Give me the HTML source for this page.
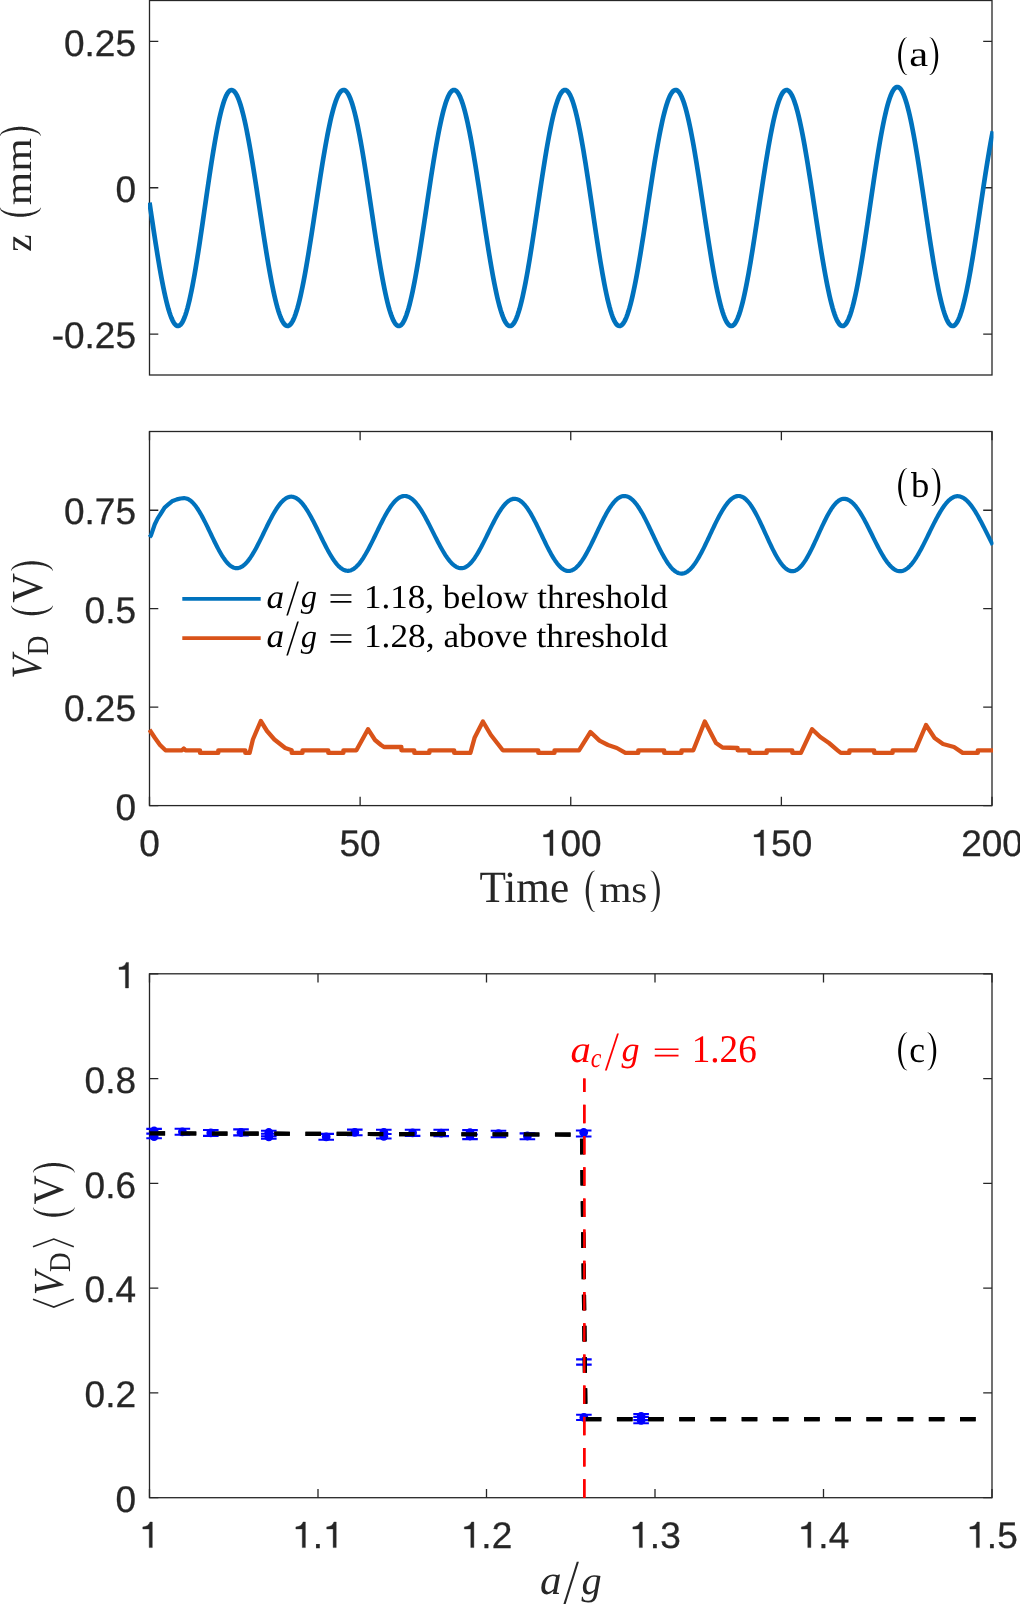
<!DOCTYPE html><html><head><meta charset="utf-8"><style>html,body{margin:0;padding:0;background:#fff;width:1020px;height:1604px;overflow:hidden}svg{display:block}text{text-rendering:geometricPrecision}svg{filter:grayscale(0%)}</style></head><body>
<svg width="1020" height="1604" viewBox="0 0 1020 1604">
<rect width="1020" height="1604" fill="#fff"/>
<defs>
<clipPath id="ca"><rect x="148" y="0.5" width="845.5" height="374.5"/></clipPath>
<clipPath id="cb"><rect x="148" y="431.5" width="845.5" height="374.1"/></clipPath>
<clipPath id="cc"><rect x="148" y="973.8" width="845.5" height="523.9"/></clipPath>
</defs>
<rect x="149.5" y="0.5" width="842.5" height="374.5" fill="none" stroke="#262626" stroke-width="1.3"/>
<rect x="149.5" y="431.5" width="842.5" height="374.1" fill="none" stroke="#262626" stroke-width="1.3"/>
<rect x="149.5" y="973.8" width="842.5" height="523.9" fill="none" stroke="#262626" stroke-width="1.3"/>
<path d="M149.5 41.46h8.8M992 41.46h-8.8M149.5 187.75h8.8M992 187.75h-8.8M149.5 334.04h8.8M992 334.04h-8.8M149.5 805.6h8.8M992 805.6h-8.8M149.5 707.15h8.8M992 707.15h-8.8M149.5 608.71h8.8M992 608.71h-8.8M149.5 510.26h8.8M992 510.26h-8.8M149.5 805.6v-8.8M149.5 431.5v8.8M360.12 805.6v-8.8M360.12 431.5v8.8M570.75 805.6v-8.8M570.75 431.5v8.8M781.38 805.6v-8.8M781.38 431.5v8.8M992 805.6v-8.8M992 431.5v8.8M149.5 1497.7h8.8M992 1497.7h-8.8M149.5 1392.92h8.8M992 1392.92h-8.8M149.5 1288.14h8.8M992 1288.14h-8.8M149.5 1183.36h8.8M992 1183.36h-8.8M149.5 1078.58h8.8M992 1078.58h-8.8M149.5 973.8h8.8M992 973.8h-8.8M149.5 1497.7v-8.8M149.5 973.8v8.8M318 1497.7v-8.8M318 973.8v8.8M486.5 1497.7v-8.8M486.5 973.8v8.8M655 1497.7v-8.8M655 973.8v8.8M823.5 1497.7v-8.8M823.5 973.8v8.8M992 1497.7v-8.8M992 973.8v8.8" stroke="#262626" stroke-width="1.3" fill="none"/>
<path d="M149.5 202.65 L150.5 209.34 L151.5 216.02 L152.5 222.68 L153.5 229.3 L154.5 235.84 L155.5 242.29 L156.5 248.64 L157.5 254.85 L158.5 260.91 L159.5 266.81 L160.5 272.51 L161.5 278.01 L162.5 283.28 L163.5 288.31 L164.5 293.08 L165.5 297.58 L166.5 301.79 L167.5 305.69 L168.5 309.29 L169.5 312.56 L170.5 315.49 L171.5 318.07 L172.5 320.31 L173.5 322.18 L174.5 323.68 L175.5 324.82 L176.5 325.57 L177.5 325.95 L178.5 325.95 L179.5 325.54 L180.5 324.73 L181.5 323.52 L182.5 321.9 L183.5 319.9 L184.5 317.51 L185.5 314.74 L186.5 311.6 L187.5 308.11 L188.5 304.27 L189.5 300.1 L190.5 295.61 L191.5 290.82 L192.5 285.75 L193.5 280.41 L194.5 274.81 L195.5 268.99 L196.5 262.96 L197.5 256.73 L198.5 250.34 L199.5 243.8 L200.5 237.14 L201.5 230.38 L202.5 223.55 L203.5 216.65 L204.5 209.73 L205.5 202.8 L206.5 195.9 L207.5 189.03 L208.5 182.23 L209.5 175.51 L210.5 168.91 L211.5 162.44 L212.5 156.13 L213.5 150 L214.5 144.07 L215.5 138.36 L216.5 132.89 L217.5 127.68 L218.5 122.74 L219.5 118.1 L220.5 113.77 L221.5 109.77 L222.5 106.1 L223.5 102.78 L224.5 99.83 L225.5 97.25 L226.5 95.05 L227.5 93.24 L228.5 91.83 L229.5 90.81 L230.5 90.2 L231.5 90 L232.5 90.19 L233.5 90.74 L234.5 91.67 L235.5 92.96 L236.5 94.61 L237.5 96.62 L238.5 98.98 L239.5 101.69 L240.5 104.72 L241.5 108.09 L242.5 111.76 L243.5 115.74 L244.5 120.01 L245.5 124.56 L246.5 129.37 L247.5 134.43 L248.5 139.72 L249.5 145.22 L250.5 150.92 L251.5 156.8 L252.5 162.84 L253.5 169.03 L254.5 175.33 L255.5 181.74 L256.5 188.23 L257.5 194.79 L258.5 201.38 L259.5 208 L260.5 214.62 L261.5 221.21 L262.5 227.77 L263.5 234.26 L264.5 240.67 L265.5 246.97 L266.5 253.16 L267.5 259.2 L268.5 265.08 L269.5 270.78 L270.5 276.28 L271.5 281.57 L272.5 286.63 L273.5 291.44 L274.5 295.99 L275.5 300.26 L276.5 304.24 L277.5 307.91 L278.5 311.28 L279.5 314.31 L280.5 317.02 L281.5 319.38 L282.5 321.39 L283.5 323.04 L284.5 324.33 L285.5 325.26 L286.5 325.81 L287.5 326 L288.5 325.82 L289.5 325.26 L290.5 324.34 L291.5 323.05 L292.5 321.4 L293.5 319.4 L294.5 317.05 L295.5 314.36 L296.5 311.33 L297.5 307.98 L298.5 304.31 L299.5 300.34 L300.5 296.09 L301.5 291.56 L302.5 286.76 L303.5 281.72 L304.5 276.45 L305.5 270.96 L306.5 265.27 L307.5 259.41 L308.5 253.39 L309.5 247.22 L310.5 240.93 L311.5 234.53 L312.5 228.06 L313.5 221.52 L314.5 214.93 L315.5 208.33 L316.5 201.73 L317.5 195.14 L318.5 188.59 L319.5 182.11 L320.5 175.71 L321.5 169.41 L322.5 163.23 L323.5 157.18 L324.5 151.3 L325.5 145.6 L326.5 140.09 L327.5 134.8 L328.5 129.73 L329.5 124.91 L330.5 120.35 L331.5 116.07 L332.5 112.07 L333.5 108.38 L334.5 104.99 L335.5 101.93 L336.5 99.2 L337.5 96.82 L338.5 94.78 L339.5 93.1 L340.5 91.77 L341.5 90.82 L342.5 90.22 L343.5 90 L344.5 90.15 L345.5 90.69 L346.5 91.6 L347.5 92.89 L348.5 94.56 L349.5 96.59 L350.5 98.98 L351.5 101.73 L352.5 104.82 L353.5 108.24 L354.5 111.99 L355.5 116.04 L356.5 120.4 L357.5 125.04 L358.5 129.95 L359.5 135.11 L360.5 140.5 L361.5 146.12 L362.5 151.93 L363.5 157.93 L364.5 164.09 L365.5 170.39 L366.5 176.81 L367.5 183.34 L368.5 189.94 L369.5 196.6 L370.5 203.3 L371.5 210.01 L372.5 216.72 L373.5 223.4 L374.5 230.03 L375.5 236.59 L376.5 243.06 L377.5 249.41 L378.5 255.63 L379.5 261.69 L380.5 267.58 L381.5 273.28 L382.5 278.76 L383.5 284.02 L384.5 289.03 L385.5 293.78 L386.5 298.25 L387.5 302.43 L388.5 306.3 L389.5 309.85 L390.5 313.08 L391.5 315.96 L392.5 318.5 L393.5 320.67 L394.5 322.48 L395.5 323.92 L396.5 324.99 L397.5 325.68 L398.5 325.98 L399.5 325.91 L400.5 325.45 L401.5 324.61 L402.5 323.39 L403.5 321.8 L404.5 319.85 L405.5 317.52 L406.5 314.85 L407.5 311.83 L408.5 308.47 L409.5 304.79 L410.5 300.79 L411.5 296.5 L412.5 291.91 L413.5 287.06 L414.5 281.95 L415.5 276.6 L416.5 271.02 L417.5 265.25 L418.5 259.28 L419.5 253.16 L420.5 246.88 L421.5 240.48 L422.5 233.98 L423.5 227.39 L424.5 220.74 L425.5 214.04 L426.5 207.33 L427.5 200.62 L428.5 193.93 L429.5 187.29 L430.5 180.71 L431.5 174.23 L432.5 167.85 L433.5 161.61 L434.5 155.51 L435.5 149.58 L436.5 143.85 L437.5 138.32 L438.5 133.01 L439.5 127.95 L440.5 123.15 L441.5 118.62 L442.5 114.38 L443.5 110.45 L444.5 106.83 L445.5 103.54 L446.5 100.59 L447.5 97.98 L448.5 95.73 L449.5 93.85 L450.5 92.33 L451.5 91.19 L452.5 90.43 L453.5 90.05 L454.5 90.05 L455.5 90.42 L456.5 91.16 L457.5 92.27 L458.5 93.74 L459.5 95.57 L460.5 97.76 L461.5 100.29 L462.5 103.16 L463.5 106.37 L464.5 109.89 L465.5 113.72 L466.5 117.84 L467.5 122.25 L468.5 126.93 L469.5 131.87 L470.5 137.04 L471.5 142.44 L472.5 148.05 L473.5 153.84 L474.5 159.8 L475.5 165.92 L476.5 172.17 L477.5 178.53 L478.5 184.98 L479.5 191.5 L480.5 198.08 L481.5 204.69 L482.5 211.31 L483.5 217.92 L484.5 224.5 L485.5 231.02 L486.5 237.47 L487.5 243.83 L488.5 250.08 L489.5 256.2 L490.5 262.16 L491.5 267.95 L492.5 273.56 L493.5 278.96 L494.5 284.13 L495.5 289.07 L496.5 293.75 L497.5 298.16 L498.5 302.28 L499.5 306.11 L500.5 309.63 L501.5 312.84 L502.5 315.71 L503.5 318.24 L504.5 320.43 L505.5 322.26 L506.5 323.73 L507.5 324.84 L508.5 325.58 L509.5 325.95 L510.5 325.95 L511.5 325.57 L512.5 324.8 L513.5 323.65 L514.5 322.12 L515.5 320.22 L516.5 317.96 L517.5 315.34 L518.5 312.36 L519.5 309.05 L520.5 305.41 L521.5 301.44 L522.5 297.18 L523.5 292.62 L524.5 287.79 L525.5 282.7 L526.5 277.36 L527.5 271.8 L528.5 266.02 L529.5 260.06 L530.5 253.93 L531.5 247.65 L532.5 241.24 L533.5 234.73 L534.5 228.12 L535.5 221.45 L536.5 214.74 L537.5 208 L538.5 201.26 L539.5 194.55 L540.5 187.88 L541.5 181.27 L542.5 174.76 L543.5 168.35 L544.5 162.07 L545.5 155.94 L546.5 149.98 L547.5 144.2 L548.5 138.64 L549.5 133.3 L550.5 128.21 L551.5 123.38 L552.5 118.82 L553.5 114.56 L554.5 110.59 L555.5 106.95 L556.5 103.64 L557.5 100.66 L558.5 98.04 L559.5 95.78 L560.5 93.88 L561.5 92.35 L562.5 91.2 L563.5 90.43 L564.5 90.05 L565.5 90.05 L566.5 90.44 L567.5 91.22 L568.5 92.39 L569.5 93.95 L570.5 95.88 L571.5 98.19 L572.5 100.86 L573.5 103.88 L574.5 107.26 L575.5 110.96 L576.5 114.99 L577.5 119.33 L578.5 123.96 L579.5 128.87 L580.5 134.05 L581.5 139.47 L582.5 145.12 L583.5 150.97 L584.5 157.02 L585.5 163.24 L586.5 169.6 L587.5 176.09 L588.5 182.69 L589.5 189.37 L590.5 196.12 L591.5 202.9 L592.5 209.7 L593.5 216.5 L594.5 223.26 L595.5 229.98 L596.5 236.62 L597.5 243.17 L598.5 249.6 L599.5 255.89 L600.5 262.02 L601.5 267.98 L602.5 273.73 L603.5 279.27 L604.5 284.57 L605.5 289.62 L606.5 294.39 L607.5 298.88 L608.5 303.06 L609.5 306.93 L610.5 310.47 L611.5 313.67 L612.5 316.52 L613.5 319.01 L614.5 321.13 L615.5 322.88 L616.5 324.24 L617.5 325.22 L618.5 325.8 L619.5 326 L620.5 325.82 L621.5 325.26 L622.5 324.34 L623.5 323.05 L624.5 321.4 L625.5 319.4 L626.5 317.05 L627.5 314.36 L628.5 311.33 L629.5 307.98 L630.5 304.31 L631.5 300.34 L632.5 296.09 L633.5 291.56 L634.5 286.76 L635.5 281.72 L636.5 276.45 L637.5 270.96 L638.5 265.27 L639.5 259.41 L640.5 253.39 L641.5 247.22 L642.5 240.93 L643.5 234.53 L644.5 228.06 L645.5 221.52 L646.5 214.93 L647.5 208.33 L648.5 201.73 L649.5 195.14 L650.5 188.59 L651.5 182.11 L652.5 175.71 L653.5 169.41 L654.5 163.23 L655.5 157.18 L656.5 151.3 L657.5 145.6 L658.5 140.09 L659.5 134.8 L660.5 129.73 L661.5 124.91 L662.5 120.35 L663.5 116.07 L664.5 112.07 L665.5 108.38 L666.5 104.99 L667.5 101.93 L668.5 99.2 L669.5 96.82 L670.5 94.78 L671.5 93.1 L672.5 91.77 L673.5 90.82 L674.5 90.22 L675.5 90 L676.5 90.15 L677.5 90.68 L678.5 91.57 L679.5 92.84 L680.5 94.48 L681.5 96.47 L682.5 98.82 L683.5 101.52 L684.5 104.56 L685.5 107.92 L686.5 111.61 L687.5 115.6 L688.5 119.88 L689.5 124.44 L690.5 129.27 L691.5 134.35 L692.5 139.67 L693.5 145.2 L694.5 150.93 L695.5 156.84 L696.5 162.92 L697.5 169.14 L698.5 175.48 L699.5 181.93 L700.5 188.46 L701.5 195.05 L702.5 201.68 L703.5 208.33 L704.5 214.98 L705.5 221.61 L706.5 228.2 L707.5 234.72 L708.5 241.16 L709.5 247.49 L710.5 253.69 L711.5 259.75 L712.5 265.65 L713.5 271.36 L714.5 276.87 L715.5 282.16 L716.5 287.22 L717.5 292.02 L718.5 296.56 L719.5 300.82 L720.5 304.78 L721.5 308.43 L722.5 311.76 L723.5 314.76 L724.5 317.43 L725.5 319.74 L726.5 321.7 L727.5 323.3 L728.5 324.53 L729.5 325.39 L730.5 325.88 L731.5 325.99 L732.5 325.72 L733.5 325.08 L734.5 324.05 L735.5 322.64 L736.5 320.87 L737.5 318.73 L738.5 316.23 L739.5 313.38 L740.5 310.19 L741.5 306.67 L742.5 302.83 L743.5 298.68 L744.5 294.24 L745.5 289.52 L746.5 284.53 L747.5 279.3 L748.5 273.84 L749.5 268.16 L750.5 262.29 L751.5 256.24 L752.5 250.04 L753.5 243.7 L754.5 237.24 L755.5 230.69 L756.5 224.07 L757.5 217.39 L758.5 210.69 L759.5 203.97 L760.5 197.27 L761.5 190.6 L762.5 183.99 L763.5 177.46 L764.5 171.03 L765.5 164.71 L766.5 158.54 L767.5 152.52 L768.5 146.69 L769.5 141.05 L770.5 135.63 L771.5 130.45 L772.5 125.52 L773.5 120.85 L774.5 116.47 L775.5 112.38 L776.5 108.6 L777.5 105.14 L778.5 102.02 L779.5 99.24 L780.5 96.81 L781.5 94.75 L782.5 93.04 L783.5 91.72 L784.5 90.76 L785.5 90.19 L786.5 90 L787.5 90.18 L788.5 90.74 L789.5 91.66 L790.5 92.95 L791.5 94.6 L792.5 96.6 L793.5 98.95 L794.5 101.64 L795.5 104.67 L796.5 108.02 L797.5 111.69 L798.5 115.66 L799.5 119.91 L800.5 124.44 L801.5 129.24 L802.5 134.28 L803.5 139.55 L804.5 145.04 L805.5 150.73 L806.5 156.59 L807.5 162.61 L808.5 168.78 L809.5 175.07 L810.5 181.47 L811.5 187.94 L812.5 194.48 L813.5 201.07 L814.5 207.67 L815.5 214.27 L816.5 220.86 L817.5 227.41 L818.5 233.89 L819.5 240.29 L820.5 246.59 L821.5 252.77 L822.5 258.82 L823.5 264.7 L824.5 270.4 L825.5 275.91 L826.5 281.2 L827.5 286.27 L828.5 291.09 L829.5 295.65 L830.5 299.93 L831.5 303.93 L832.5 307.62 L833.5 311.01 L834.5 314.07 L835.5 316.8 L836.5 319.18 L837.5 321.22 L838.5 322.9 L839.5 324.23 L840.5 325.18 L841.5 325.78 L842.5 326 L843.5 325.84 L844.5 325.29 L845.5 324.35 L846.5 323.01 L847.5 321.3 L848.5 319.2 L849.5 316.74 L850.5 313.91 L851.5 310.73 L852.5 307.2 L853.5 303.34 L854.5 299.16 L855.5 294.68 L856.5 289.9 L857.5 284.85 L858.5 279.54 L859.5 273.99 L860.5 268.22 L861.5 262.24 L862.5 256.09 L863.5 249.76 L864.5 243.3 L865.5 236.71 L866.5 230.02 L867.5 223.26 L868.5 216.44 L869.5 209.59 L870.5 202.73 L871.5 195.88 L872.5 189.06 L873.5 182.3 L874.5 175.63 L875.5 169.05 L876.5 162.6 L877.5 156.29 L878.5 150.15 L879.5 144.19 L880.5 138.44 L881.5 132.92 L882.5 127.63 L883.5 122.61 L884.5 117.86 L885.5 113.41 L886.5 109.26 L887.5 105.43 L888.5 101.94 L889.5 98.79 L890.5 96 L891.5 93.57 L892.5 91.51 L893.5 89.83 L894.5 88.54 L895.5 87.64 L896.5 87.13 L897.5 87.01 L898.5 87.28 L899.5 87.93 L900.5 88.97 L901.5 90.39 L902.5 92.18 L903.5 94.34 L904.5 96.86 L905.5 99.73 L906.5 102.95 L907.5 106.51 L908.5 110.38 L909.5 114.57 L910.5 119.05 L911.5 123.82 L912.5 128.85 L913.5 134.14 L914.5 139.65 L915.5 145.38 L916.5 151.31 L917.5 157.42 L918.5 163.69 L919.5 170.09 L920.5 176.61 L921.5 183.23 L922.5 189.92 L923.5 196.67 L924.5 203.45 L925.5 210.23 L926.5 217.01 L927.5 223.75 L928.5 230.44 L929.5 237.05 L930.5 243.56 L931.5 249.95 L932.5 256.2 L933.5 262.29 L934.5 268.2 L935.5 273.91 L936.5 279.4 L937.5 284.66 L938.5 289.67 L939.5 294.41 L940.5 298.86 L941.5 303.02 L942.5 306.86 L943.5 310.38 L944.5 313.57 L945.5 316.41 L946.5 318.9 L947.5 321.02 L948.5 322.77 L949.5 324.15 L950.5 325.15 L951.5 325.77 L952.5 326 L953.5 325.85 L954.5 325.32 L955.5 324.41 L956.5 323.13 L957.5 321.47 L958.5 319.46 L959.5 317.08 L960.5 314.36 L961.5 311.29 L962.5 307.89 L963.5 304.17 L964.5 300.14 L965.5 295.81 L966.5 291.2 L967.5 286.33 L968.5 281.2 L969.5 275.83 L970.5 270.25 L971.5 264.47 L972.5 258.51 L973.5 252.38 L974.5 246.11 L975.5 239.72 L976.5 233.23 L977.5 226.66 L978.5 220.02 L979.5 213.35 L980.5 206.66 L981.5 199.98 L982.5 193.32 L983.5 186.7 L984.5 180.16 L985.5 173.71 L986.5 167.36 L987.5 161.15 L988.5 155.09 L989.5 149.19 L990.5 143.49 L991.5 137.99 L992.5 132.72 L992.8 131.19" fill="none" stroke="#0072BD" stroke-width="4.7" stroke-linejoin="round" clip-path="url(#ca)"/>
<path d="M149.5 537.2 L150.9 535.6 L154.8 524.3 L157.7 518.4 L161.2 513 L164.6 507.6 L168 504.7 L172 501.3 L176.9 499.4 L180.5 498.5 L184.2 498.2 L185.2 498.26 L186.2 498.45 L187.2 498.76 L188.2 499.2 L189.2 499.75 L190.2 500.43 L191.2 501.23 L192.2 502.13 L193.2 503.15 L194.2 504.28 L195.2 505.51 L196.2 506.84 L197.2 508.27 L198.2 509.78 L199.2 511.38 L200.2 513.05 L201.2 514.8 L202.2 516.61 L203.2 518.49 L204.2 520.41 L205.2 522.38 L206.2 524.39 L207.2 526.44 L208.2 528.5 L209.2 530.58 L210.2 532.68 L211.2 534.77 L212.2 536.86 L213.2 538.93 L214.2 540.99 L215.2 543.01 L216.2 545.01 L217.2 546.96 L218.2 548.86 L219.2 550.7 L220.2 552.48 L221.2 554.19 L222.2 555.83 L223.2 557.39 L224.2 558.86 L225.2 560.23 L226.2 561.52 L227.2 562.7 L228.2 563.77 L229.2 564.73 L230.2 565.59 L231.2 566.32 L232.2 566.94 L233.2 567.44 L234.2 567.81 L235.2 568.06 L236.2 568.18 L237.2 568.19 L238.2 568.07 L239.2 567.83 L240.2 567.47 L241.2 567 L242.2 566.42 L243.2 565.72 L244.2 564.91 L245.2 563.99 L246.2 562.97 L247.2 561.85 L248.2 560.63 L249.2 559.31 L250.2 557.91 L251.2 556.42 L252.2 554.85 L253.2 553.21 L254.2 551.5 L255.2 549.73 L256.2 547.9 L257.2 546.01 L258.2 544.08 L259.2 542.12 L260.2 540.12 L261.2 538.09 L262.2 536.05 L263.2 534 L264.2 531.93 L265.2 529.88 L266.2 527.83 L267.2 525.79 L268.2 523.78 L269.2 521.8 L270.2 519.85 L271.2 517.94 L272.2 516.08 L273.2 514.28 L274.2 512.53 L275.2 510.86 L276.2 509.25 L277.2 507.72 L278.2 506.28 L279.2 504.92 L280.2 503.65 L281.2 502.48 L282.2 501.4 L283.2 500.43 L284.2 499.57 L285.2 498.82 L286.2 498.17 L287.2 497.65 L288.2 497.23 L289.2 496.94 L290.2 496.76 L291.2 496.7 L292.2 496.76 L293.2 496.93 L294.2 497.21 L295.2 497.61 L296.2 498.12 L297.2 498.74 L298.2 499.46 L299.2 500.29 L300.2 501.23 L301.2 502.26 L302.2 503.39 L303.2 504.62 L304.2 505.93 L305.2 507.33 L306.2 508.82 L307.2 510.38 L308.2 512.01 L309.2 513.7 L310.2 515.46 L311.2 517.28 L312.2 519.15 L313.2 521.06 L314.2 523.01 L315.2 524.99 L316.2 527 L317.2 529.03 L318.2 531.08 L319.2 533.13 L320.2 535.19 L321.2 537.24 L322.2 539.28 L323.2 541.31 L324.2 543.31 L325.2 545.28 L326.2 547.21 L327.2 549.11 L328.2 550.95 L329.2 552.75 L330.2 554.48 L331.2 556.15 L332.2 557.76 L333.2 559.29 L334.2 560.74 L335.2 562.1 L336.2 563.38 L337.2 564.57 L338.2 565.66 L339.2 566.66 L340.2 567.55 L341.2 568.34 L342.2 569.02 L343.2 569.6 L344.2 570.06 L345.2 570.41 L346.2 570.65 L347.2 570.78 L348.2 570.79 L349.2 570.69 L350.2 570.47 L351.2 570.14 L352.2 569.7 L353.2 569.14 L354.2 568.48 L355.2 567.71 L356.2 566.84 L357.2 565.86 L358.2 564.78 L359.2 563.61 L360.2 562.34 L361.2 560.99 L362.2 559.55 L363.2 558.03 L364.2 556.44 L365.2 554.78 L366.2 553.05 L367.2 551.26 L368.2 549.41 L369.2 547.52 L370.2 545.58 L371.2 543.61 L372.2 541.61 L373.2 539.58 L374.2 537.53 L375.2 535.47 L376.2 533.4 L377.2 531.33 L378.2 529.27 L379.2 527.22 L380.2 525.19 L381.2 523.19 L382.2 521.22 L383.2 519.28 L384.2 517.39 L385.2 515.54 L386.2 513.75 L387.2 512.02 L388.2 510.36 L389.2 508.77 L390.2 507.25 L391.2 505.81 L392.2 504.46 L393.2 503.19 L394.2 502.02 L395.2 500.94 L396.2 499.96 L397.2 499.09 L398.2 498.32 L399.2 497.66 L400.2 497.1 L401.2 496.66 L402.2 496.33 L403.2 496.11 L404.2 496.01 L405.2 496.02 L406.2 496.14 L407.2 496.37 L408.2 496.72 L409.2 497.17 L410.2 497.72 L411.2 498.39 L412.2 499.15 L413.2 500.02 L414.2 500.99 L415.2 502.05 L416.2 503.2 L417.2 504.45 L418.2 505.77 L419.2 507.18 L420.2 508.67 L421.2 510.22 L422.2 511.85 L423.2 513.53 L424.2 515.28 L425.2 517.07 L426.2 518.91 L427.2 520.79 L428.2 522.71 L429.2 524.65 L430.2 526.62 L431.2 528.61 L432.2 530.6 L433.2 532.6 L434.2 534.6 L435.2 536.59 L436.2 538.57 L437.2 540.52 L438.2 542.45 L439.2 544.35 L440.2 546.21 L441.2 548.03 L442.2 549.8 L443.2 551.52 L444.2 553.17 L445.2 554.76 L446.2 556.29 L447.2 557.73 L448.2 559.1 L449.2 560.39 L450.2 561.59 L451.2 562.69 L452.2 563.71 L453.2 564.62 L454.2 565.44 L455.2 566.16 L456.2 566.77 L457.2 567.27 L458.2 567.67 L459.2 567.96 L460.2 568.13 L461.2 568.2 L462.2 568.15 L463.2 567.98 L464.2 567.69 L465.2 567.29 L466.2 566.76 L467.2 566.12 L468.2 565.37 L469.2 564.51 L470.2 563.53 L471.2 562.46 L472.2 561.28 L473.2 560.01 L474.2 558.64 L475.2 557.19 L476.2 555.66 L477.2 554.04 L478.2 552.36 L479.2 550.61 L480.2 548.81 L481.2 546.94 L482.2 545.04 L483.2 543.09 L484.2 541.11 L485.2 539.1 L486.2 537.07 L487.2 535.03 L488.2 532.99 L489.2 530.95 L490.2 528.91 L491.2 526.89 L492.2 524.9 L493.2 522.93 L494.2 521 L495.2 519.12 L496.2 517.28 L497.2 515.5 L498.2 513.79 L499.2 512.14 L500.2 510.57 L501.2 509.07 L502.2 507.66 L503.2 506.34 L504.2 505.12 L505.2 503.99 L506.2 502.97 L507.2 502.05 L508.2 501.24 L509.2 500.54 L510.2 499.96 L511.2 499.49 L512.2 499.15 L513.2 498.92 L514.2 498.81 L515.2 498.82 L516.2 498.96 L517.2 499.21 L518.2 499.59 L519.2 500.09 L520.2 500.71 L521.2 501.44 L522.2 502.28 L523.2 503.24 L524.2 504.31 L525.2 505.47 L526.2 506.74 L527.2 508.11 L528.2 509.56 L529.2 511.1 L530.2 512.72 L531.2 514.42 L532.2 516.19 L533.2 518.02 L534.2 519.9 L535.2 521.84 L536.2 523.82 L537.2 525.84 L538.2 527.9 L539.2 529.97 L540.2 532.06 L541.2 534.16 L542.2 536.27 L543.2 538.37 L544.2 540.45 L545.2 542.52 L546.2 544.56 L547.2 546.57 L548.2 548.54 L549.2 550.47 L550.2 552.34 L551.2 554.15 L552.2 555.9 L553.2 557.57 L554.2 559.17 L555.2 560.69 L556.2 562.11 L557.2 563.45 L558.2 564.69 L559.2 565.83 L560.2 566.86 L561.2 567.78 L562.2 568.59 L563.2 569.29 L564.2 569.87 L565.2 570.33 L566.2 570.68 L567.2 570.9 L568.2 570.99 L569.2 570.97 L570.2 570.83 L571.2 570.57 L572.2 570.19 L573.2 569.69 L574.2 569.09 L575.2 568.36 L576.2 567.53 L577.2 566.59 L578.2 565.55 L579.2 564.4 L580.2 563.15 L581.2 561.82 L582.2 560.39 L583.2 558.87 L584.2 557.28 L585.2 555.61 L586.2 553.87 L587.2 552.07 L588.2 550.2 L589.2 548.29 L590.2 546.33 L591.2 544.32 L592.2 542.28 L593.2 540.22 L594.2 538.13 L595.2 536.03 L596.2 533.92 L597.2 531.81 L598.2 529.71 L599.2 527.61 L600.2 525.54 L601.2 523.49 L602.2 521.47 L603.2 519.49 L604.2 517.56 L605.2 515.67 L606.2 513.84 L607.2 512.08 L608.2 510.38 L609.2 508.75 L610.2 507.21 L611.2 505.75 L612.2 504.37 L613.2 503.09 L614.2 501.9 L615.2 500.81 L616.2 499.83 L617.2 498.96 L618.2 498.19 L619.2 497.54 L620.2 496.99 L621.2 496.57 L622.2 496.26 L623.2 496.07 L624.2 496 L625.2 496.05 L626.2 496.21 L627.2 496.49 L628.2 496.89 L629.2 497.4 L630.2 498.02 L631.2 498.75 L632.2 499.6 L633.2 500.54 L634.2 501.6 L635.2 502.75 L636.2 504 L637.2 505.34 L638.2 506.77 L639.2 508.28 L640.2 509.88 L641.2 511.55 L642.2 513.29 L643.2 515.09 L644.2 516.96 L645.2 518.88 L646.2 520.84 L647.2 522.85 L648.2 524.9 L649.2 526.97 L650.2 529.07 L651.2 531.18 L652.2 533.31 L653.2 535.44 L654.2 537.57 L655.2 539.69 L656.2 541.79 L657.2 543.88 L658.2 545.94 L659.2 547.96 L660.2 549.94 L661.2 551.88 L662.2 553.77 L663.2 555.6 L664.2 557.36 L665.2 559.06 L666.2 560.69 L667.2 562.24 L668.2 563.7 L669.2 565.08 L670.2 566.36 L671.2 567.56 L672.2 568.65 L673.2 569.64 L674.2 570.52 L675.2 571.3 L676.2 571.97 L677.2 572.52 L678.2 572.96 L679.2 573.29 L680.2 573.5 L681.2 573.59 L682.2 573.57 L683.2 573.43 L684.2 573.17 L685.2 572.8 L686.2 572.31 L687.2 571.71 L688.2 570.99 L689.2 570.17 L690.2 569.24 L691.2 568.2 L692.2 567.07 L693.2 565.83 L694.2 564.51 L695.2 563.09 L696.2 561.59 L697.2 560 L698.2 558.34 L699.2 556.61 L700.2 554.81 L701.2 552.95 L702.2 551.04 L703.2 549.08 L704.2 547.07 L705.2 545.03 L706.2 542.96 L707.2 540.86 L708.2 538.74 L709.2 536.61 L710.2 534.48 L711.2 532.35 L712.2 530.22 L713.2 528.11 L714.2 526.02 L715.2 523.95 L716.2 521.92 L717.2 519.93 L718.2 517.98 L719.2 516.08 L720.2 514.24 L721.2 512.46 L722.2 510.75 L723.2 509.11 L724.2 507.55 L725.2 506.08 L726.2 504.68 L727.2 503.39 L728.2 502.18 L729.2 501.07 L730.2 500.07 L731.2 499.17 L732.2 498.38 L733.2 497.7 L734.2 497.13 L735.2 496.68 L736.2 496.34 L737.2 496.12 L738.2 496.01 L739.2 496.02 L740.2 496.16 L741.2 496.43 L742.2 496.83 L743.2 497.35 L744.2 498 L745.2 498.77 L746.2 499.66 L747.2 500.66 L748.2 501.78 L749.2 503 L750.2 504.33 L751.2 505.76 L752.2 507.29 L753.2 508.9 L754.2 510.6 L755.2 512.38 L756.2 514.23 L757.2 516.15 L758.2 518.13 L759.2 520.16 L760.2 522.23 L761.2 524.35 L762.2 526.49 L763.2 528.66 L764.2 530.85 L765.2 533.05 L766.2 535.25 L767.2 537.44 L768.2 539.62 L769.2 541.78 L770.2 543.91 L771.2 546.01 L772.2 548.07 L773.2 550.07 L774.2 552.02 L775.2 553.9 L776.2 555.72 L777.2 557.46 L778.2 559.12 L779.2 560.69 L780.2 562.17 L781.2 563.55 L782.2 564.83 L783.2 566 L784.2 567.06 L785.2 568 L786.2 568.83 L787.2 569.54 L788.2 570.12 L789.2 570.58 L790.2 570.92 L791.2 571.12 L792.2 571.2 L793.2 571.15 L794.2 570.96 L795.2 570.64 L796.2 570.19 L797.2 569.61 L798.2 568.9 L799.2 568.06 L800.2 567.11 L801.2 566.03 L802.2 564.84 L803.2 563.55 L804.2 562.14 L805.2 560.64 L806.2 559.04 L807.2 557.35 L808.2 555.58 L809.2 553.73 L810.2 551.82 L811.2 549.84 L812.2 547.81 L813.2 545.73 L814.2 543.61 L815.2 541.45 L816.2 539.28 L817.2 537.09 L818.2 534.89 L819.2 532.69 L820.2 530.5 L821.2 528.33 L822.2 526.18 L823.2 524.06 L824.2 521.99 L825.2 519.96 L826.2 517.99 L827.2 516.08 L828.2 514.24 L829.2 512.48 L830.2 510.8 L831.2 509.21 L832.2 507.71 L833.2 506.32 L834.2 505.03 L835.2 503.85 L836.2 502.79 L837.2 501.85 L838.2 501.03 L839.2 500.33 L840.2 499.76 L841.2 499.32 L842.2 499.02 L843.2 498.84 L844.2 498.8 L845.2 498.88 L846.2 499.07 L847.2 499.38 L848.2 499.8 L849.2 500.32 L850.2 500.96 L851.2 501.7 L852.2 502.55 L853.2 503.5 L854.2 504.55 L855.2 505.69 L856.2 506.92 L857.2 508.25 L858.2 509.65 L859.2 511.14 L860.2 512.7 L861.2 514.33 L862.2 516.03 L863.2 517.78 L864.2 519.59 L865.2 521.45 L866.2 523.35 L867.2 525.29 L868.2 527.26 L869.2 529.25 L870.2 531.26 L871.2 533.28 L872.2 535.3 L873.2 537.33 L874.2 539.35 L875.2 541.35 L876.2 543.34 L877.2 545.3 L878.2 547.22 L879.2 549.11 L880.2 550.95 L881.2 552.75 L882.2 554.49 L883.2 556.16 L884.2 557.77 L885.2 559.31 L886.2 560.78 L887.2 562.16 L888.2 563.46 L889.2 564.66 L890.2 565.78 L891.2 566.8 L892.2 567.71 L893.2 568.53 L894.2 569.24 L895.2 569.85 L896.2 570.34 L897.2 570.72 L898.2 571 L899.2 571.15 L900.2 571.2 L901.2 571.13 L902.2 570.95 L903.2 570.66 L904.2 570.26 L905.2 569.75 L906.2 569.14 L907.2 568.41 L908.2 567.59 L909.2 566.66 L910.2 565.63 L911.2 564.51 L912.2 563.3 L913.2 562 L914.2 560.61 L915.2 559.15 L916.2 557.6 L917.2 555.99 L918.2 554.31 L919.2 552.57 L920.2 550.77 L921.2 548.92 L922.2 547.03 L923.2 545.09 L924.2 543.13 L925.2 541.13 L926.2 539.11 L927.2 537.08 L928.2 535.03 L929.2 532.98 L930.2 530.94 L931.2 528.9 L932.2 526.87 L933.2 524.87 L934.2 522.89 L935.2 520.95 L936.2 519.04 L937.2 517.18 L938.2 515.37 L939.2 513.61 L940.2 511.91 L941.2 510.27 L942.2 508.71 L943.2 507.22 L944.2 505.81 L945.2 504.48 L946.2 503.24 L947.2 502.09 L948.2 501.04 L949.2 500.08 L950.2 499.22 L951.2 498.47 L952.2 497.82 L953.2 497.28 L954.2 496.85 L955.2 496.52 L956.2 496.31 L957.2 496.21 L958.2 496.22 L959.2 496.34 L960.2 496.56 L961.2 496.88 L962.2 497.32 L963.2 497.85 L964.2 498.49 L965.2 499.22 L966.2 500.05 L967.2 500.98 L968.2 502 L969.2 503.11 L970.2 504.31 L971.2 505.59 L972.2 506.95 L973.2 508.38 L974.2 509.89 L975.2 511.47 L976.2 513.11 L977.2 514.8 L978.2 516.56 L979.2 518.36 L980.2 520.2 L981.2 522.08 L982.2 524 L983.2 525.95 L984.2 527.91 L985.2 529.9 L986.2 531.9 L987.2 533.9 L988.2 535.9 L989.2 537.9 L990.2 539.89 L991.2 541.86 L992.2 543.81 L992.8 544.97" fill="none" stroke="#0072BD" stroke-width="4.2" stroke-linejoin="round" clip-path="url(#cb)"/>
<path d="M149.5 729.8 L155 738 L160 745 L165.5 750.3 L182 750.3 L183.8 748.5 L185.5 750.3 L200 750.3 L200 752.9 L218.3 752.9 L218.3 750.3 L245.3 750.3 L245.3 752.9 L249.6 752.9 L252.9 739.5 L260.8 721 L267 731 L274.4 739.5 L285.2 748 L291.7 750.3 L291.7 752.9 L302.5 752.9 L302.5 750.3 L328.3 750.3 L328.3 752.9 L343.4 752.9 L343.4 750.3 L356.4 750.3 L368 729.2 L375 740 L381 745 L384 747 L401.4 747 L401.4 750.3 L414.3 750.3 L414.3 752.9 L429.4 752.9 L429.4 750.3 L454.2 750.3 L454.2 752.9 L470.4 752.9 L474.7 737.4 L482.9 721.5 L490.9 735 L502.8 750.3 L538.3 750.3 L538.3 752.9 L554.5 752.9 L554.5 750.3 L579 750.3 L590.5 732 L599.5 740.6 L608 745 L616.8 748 L625.4 752.9 L638.3 752.9 L638.3 750.3 L664.2 750.3 L664.2 752.9 L681.5 752.9 L681.5 750.3 L693.3 750.3 L704.8 721.5 L716 743 L722.5 747.5 L737.6 748 L737.6 750.3 L749.4 750.3 L749.4 752.9 L766.7 752.9 L766.7 750.3 L792.3 750.3 L792.3 752.9 L800.9 752.9 L812.1 729.2 L820.3 737 L829 743 L837.6 750.3 L840.8 752.9 L849.4 752.9 L849.4 750.3 L874.2 750.3 L874.2 752.9 L892.6 752.9 L892.6 750.3 L915.2 750.3 L926 725 L934.6 738 L943 744 L954 747 L962.7 752.9 L977.8 752.9 L977.8 750.3 L993 750.3" fill="none" stroke="#D95319" stroke-width="4.3" stroke-linejoin="round" clip-path="url(#cb)"/>
<line x1="584.3" y1="1497.7" x2="584.3" y2="1078.4" stroke="#f00" stroke-width="2.4" stroke-dasharray="18.5 12.7" stroke-dashoffset="0"/>
<path d="M149.5 1133.35 L582 1134.6 L585.5 1419.2 L975.8 1419.2" fill="none" stroke="#000" stroke-width="4.2" stroke-dasharray="15.6 15.59"/>
<g stroke="#00f" stroke-width="2.1" fill="none"><path d="M146.3 1128.9H161.9M146.3 1133.6H161.9M146.3 1138.3H161.9M154.1 1128.9V1138.3"/><path d="M174.6 1128.8H190.2M174.6 1134.7H190.2M182.4 1128.8V1134.7"/><path d="M203 1130H218.6M203 1135.9H218.6M210.8 1130V1135.9"/><path d="M233.2 1129.4H248.8M233.2 1135.4H248.8M241 1129.4V1135.4"/><path d="M261 1130.7H276.6M261 1133.7H276.6M261 1136.2H276.6M261 1138.8H276.6M268.8 1130.7V1138.8"/><path d="M318.4 1133.9H334M318.4 1139.8H334M326.2 1133.9V1139.8"/><path d="M347 1129.6H362.6M347 1135.2H362.6M354.8 1129.6V1135.2"/><path d="M376 1129.7H391.6M376 1134H391.6M376 1138.5H391.6M383.8 1129.7V1138.5"/><path d="M404.8 1129.7H420.4M404.8 1135.9H420.4M412.6 1129.7V1135.9"/><path d="M433.4 1129.7H449M433.4 1136.1H449M441.2 1129.7V1136.1"/><path d="M462.2 1130.1H477.8M462.2 1134.5H477.8M462.2 1139.1H477.8M470 1130.1V1139.1"/><path d="M490.7 1130.8H506.3M490.7 1137.2H506.3M498.5 1130.8V1137.2"/><path d="M519.6 1133.4H535.2M519.6 1139.3H535.2M527.4 1133.4V1139.3"/><path d="M575.9 1130.5H591.5M575.9 1136.5H591.5M583.7 1130.5V1136.5"/><path d="M576.1 1359.4H591.7M576.1 1364.6H591.7M583.9 1359.4V1364.6"/><path d="M576.1 1414.8H591.7M576.1 1420H591.7M583.9 1414.8V1420"/><path d="M633.3 1414.1H648.9M633.3 1417H648.9M633.3 1420.1H648.9M633.3 1423.2H648.9M641.1 1414.1V1423.2"/></g>
<g fill="#00f"><circle cx="154.1" cy="1131" r="4.4"/><circle cx="154.1" cy="1136.6" r="4.4"/><circle cx="182.4" cy="1131.8" r="4.4"/><circle cx="210.8" cy="1132.9" r="4.4"/><circle cx="241" cy="1132.5" r="4.4"/><circle cx="268.8" cy="1132.5" r="4.4"/><circle cx="268.8" cy="1136.8" r="4.4"/><circle cx="326.2" cy="1136.8" r="4.4"/><circle cx="354.8" cy="1132.4" r="4.4"/><circle cx="383.8" cy="1132.3" r="4.4"/><circle cx="383.8" cy="1136.3" r="4.4"/><circle cx="412.6" cy="1132.8" r="4.4"/><circle cx="441.2" cy="1133.2" r="4.4"/><circle cx="470" cy="1132.6" r="4.4"/><circle cx="470" cy="1136" r="4.4"/><circle cx="498.5" cy="1133.6" r="4.4"/><circle cx="527.4" cy="1136" r="4.4"/><circle cx="583.7" cy="1132.5" r="4.4"/><circle cx="583.9" cy="1417.4" r="4.4"/><circle cx="641.1" cy="1416.3" r="4.4"/><circle cx="641.1" cy="1420.3" r="4.4"/></g>
<path d="M149.5 1133.35 L582 1134.6 L585.5 1419.2 L975.8 1419.2" fill="none" stroke="#000" stroke-width="4.2" stroke-dasharray="15.6 15.59"/>
<line x1="584.3" y1="1497.7" x2="584.3" y2="1078.4" stroke="#f00" stroke-width="2.4" stroke-dasharray="18.5 12.7"/>
<g font-family='"Liberation Sans", sans-serif' font-size="37" fill="#262626" stroke="#262626" stroke-width="0.3"><text x="64" y="55.66">0.25</text><text x="115.43" y="201.95">0</text><text x="51.68" y="348.24">-0.25</text><text x="115.43" y="819.8">0</text><text x="64" y="721.35">0.25</text><text x="84.57" y="622.91">0.5</text><text x="64" y="524.46">0.75</text><text x="139.21" y="855.5">0</text><text x="339.55" y="855.5">50</text><path transform="translate(539.89 855.5) scale(37 -37)" d="M0.27 0L0.354 0L0.354 0.692L0.29 0.692C0.268 0.615 0.205 0.566 0.097 0.56L0.097 0.503L0.27 0.503Z" stroke-width="0.01"/><text x="560.46" y="855.5">00</text><path transform="translate(750.52 855.5) scale(37 -37)" d="M0.27 0L0.354 0L0.354 0.692L0.29 0.692C0.268 0.615 0.205 0.566 0.097 0.56L0.097 0.503L0.27 0.503Z" stroke-width="0.01"/><text x="771.09" y="855.5">50</text><text x="961.14" y="855.5">200</text><text x="115.43" y="1511.9">0</text><text x="84.57" y="1407.12">0.2</text><text x="84.57" y="1302.34">0.4</text><text x="84.57" y="1197.56">0.6</text><text x="84.57" y="1092.78">0.8</text><path transform="translate(115.43 988) scale(37 -37)" d="M0.27 0L0.354 0L0.354 0.692L0.29 0.692C0.268 0.615 0.205 0.566 0.097 0.56L0.097 0.503L0.27 0.503Z" stroke-width="0.01"/><path transform="translate(139.21 1547.6) scale(37 -37)" d="M0.27 0L0.354 0L0.354 0.692L0.29 0.692C0.268 0.615 0.205 0.566 0.097 0.56L0.097 0.503L0.27 0.503Z" stroke-width="0.01"/><path transform="translate(292.29 1547.6) scale(37 -37)" d="M0.27 0L0.354 0L0.354 0.692L0.29 0.692C0.268 0.615 0.205 0.566 0.097 0.56L0.097 0.503L0.27 0.503Z" stroke-width="0.01"/><text x="312.86" y="1547.6">.</text><path transform="translate(323.14 1547.6) scale(37 -37)" d="M0.27 0L0.354 0L0.354 0.692L0.29 0.692C0.268 0.615 0.205 0.566 0.097 0.56L0.097 0.503L0.27 0.503Z" stroke-width="0.01"/><path transform="translate(460.78 1547.6) scale(37 -37)" d="M0.27 0L0.354 0L0.354 0.692L0.29 0.692C0.268 0.615 0.205 0.566 0.097 0.56L0.097 0.503L0.27 0.503Z" stroke-width="0.01"/><text x="481.36" y="1547.6">.2</text><path transform="translate(629.28 1547.6) scale(37 -37)" d="M0.27 0L0.354 0L0.354 0.692L0.29 0.692C0.268 0.615 0.205 0.566 0.097 0.56L0.097 0.503L0.27 0.503Z" stroke-width="0.01"/><text x="649.86" y="1547.6">.3</text><path transform="translate(797.78 1547.6) scale(37 -37)" d="M0.27 0L0.354 0L0.354 0.692L0.29 0.692C0.268 0.615 0.205 0.566 0.097 0.56L0.097 0.503L0.27 0.503Z" stroke-width="0.01"/><text x="818.36" y="1547.6">.4</text><path transform="translate(966.28 1547.6) scale(37 -37)" d="M0.27 0L0.354 0L0.354 0.692L0.29 0.692C0.268 0.615 0.205 0.566 0.097 0.56L0.097 0.503L0.27 0.503Z" stroke-width="0.01"/><text x="986.86" y="1547.6">.5</text></g>
<g transform="matrix(0.9421 0 0 0.9500 -345.94 -128.15)"><g transform="translate(400 400) rotate(-90)"><text x="0" y="0" font-family='"Liberation Serif", serif' font-size="41" fill="#262626">z</text></g></g>
<g transform="matrix(0.9300 0 0 1.0532 -341.10 -215.94)"><g transform="translate(400 400) rotate(-90)"><text x="0" y="0" font-family='"Liberation Serif", serif' font-size="41" fill="#262626">mm</text></g></g>
<g transform="matrix(1.0545 0 0 0.9395 -380.40 302.97)"><g transform="translate(400 400) rotate(-90)"><text x="0" y="0" font-family='"Liberation Serif", serif' font-size="41" fill="#262626"><tspan font-style="italic">V</tspan><tspan font-size="29" dy="6.5">D</tspan></text></g></g>
<g transform="matrix(1.0815 0 0 1.0034 -390.47 201.42)"><g transform="translate(400 400) rotate(-90)"><text x="0" y="0" font-family='"Liberation Serif", serif' font-size="41" fill="#262626">V</text></g></g>
<g transform="matrix(1.0455 0 0 0.9326 -355.20 922.24)"><g transform="translate(400 400) rotate(-90)"><text x="0" y="0" font-family='"Liberation Serif", serif' font-size="41" fill="#262626"><tspan font-style="italic">V</tspan><tspan font-size="29" dy="6.5">D</tspan></text></g></g>
<g transform="matrix(1.0630 0 0 0.9897 -361.75 808.74)"><g transform="translate(400 400) rotate(-90)"><text x="0" y="0" font-family='"Liberation Serif", serif' font-size="41" fill="#262626">V</text></g></g>
<g transform="matrix(1.0548 0 0 1.0885 268.45 466.62)"><g transform="translate(200 400)"><text x="0" y="0" font-family='"Liberation Serif", serif' font-size="41" fill="#262626">Time</text></g></g>
<g transform="matrix(1.0021 0 0 0.9250 398.97 532.00)"><g transform="translate(200 400)"><text x="0" y="0" font-family='"Liberation Serif", serif' font-size="41" fill="#262626">ms</text></g></g>
<g transform="matrix(0.9600 0 0 0.9238 348.04 1224.88)"><g transform="translate(200 400)"><text x="0" y="0" font-family='"Liberation Serif", serif' font-size="45" font-style="italic" fill="#262626">a</text></g></g>
<g transform="matrix(0.8889 0 0 1.4552 387.00 1022.93)"><g transform="translate(200 400)"><text x="0" y="0" font-family='"Liberation Serif", serif' font-size="45" font-style="italic" fill="#262626">/</text></g></g>
<g transform="matrix(0.8952 0 0 0.8867 402.35 1239.35)"><g transform="translate(200 400)"><text x="0" y="0" font-family='"Liberation Serif", serif' font-size="45" font-style="italic" fill="#262626">g</text></g></g>
<g transform="matrix(1.1533 0 0 0.9667 678.48 -320.77)"><g transform="translate(200 400)"><text x="0" y="0" font-family='"Liberation Serif", serif' font-size="37" fill="#000">a</text></g></g>
<g transform="matrix(0.9895 0 0 0.9704 713.09 108.65)"><g transform="translate(200 400)"><text x="0" y="0" font-family='"Liberation Serif", serif' font-size="37" fill="#000">b</text></g></g>
<g transform="matrix(0.9600 0 0 0.9833 717.34 668.47)"><g transform="translate(200 400)"><text x="0" y="0" font-family='"Liberation Serif", serif' font-size="37" fill="#000">c</text></g></g>
<g transform="matrix(1.0400 0 0 0.9813 58.46 215.10)"><g transform="translate(200 400)"><text x="0" y="0" font-family='"Liberation Serif", serif' font-size="34" font-style="italic" fill="#000">a</text></g></g>
<g transform="matrix(0.9214 0 0 1.4955 103.46 16.82)"><g transform="translate(200 400)"><text x="0" y="0" font-family='"Liberation Serif", serif' font-size="34" font-style="italic" fill="#000">/</text></g></g>
<g transform="matrix(0.9563 0 0 0.9522 109.55 226.27)"><g transform="translate(200 400)"><text x="0" y="0" font-family='"Liberation Serif", serif' font-size="34" font-style="italic" fill="#000">g</text></g></g>
<g transform="matrix(1.3235 0 0 1.0222 63.67 201.27)"><g transform="translate(200 400)"><text x="0" y="0" font-family='"Liberation Serif", serif' font-size="34" fill="#000">=</text></g></g>
<g transform="matrix(1.0308 0 0 0.9828 157.84 214.48)"><g transform="translate(200 400)"><text x="0" y="0" font-family='"Liberation Serif", serif' font-size="34" fill="#000">1.18, below threshold</text></g></g>
<g transform="matrix(1.0400 0 0 0.9813 58.46 254.70)"><g transform="translate(200 400)"><text x="0" y="0" font-family='"Liberation Serif", serif' font-size="34" font-style="italic" fill="#000">a</text></g></g>
<g transform="matrix(0.9214 0 0 1.4955 103.46 56.42)"><g transform="translate(200 400)"><text x="0" y="0" font-family='"Liberation Serif", serif' font-size="34" font-style="italic" fill="#000">/</text></g></g>
<g transform="matrix(0.9563 0 0 0.9522 109.55 265.87)"><g transform="translate(200 400)"><text x="0" y="0" font-family='"Liberation Serif", serif' font-size="34" font-style="italic" fill="#000">g</text></g></g>
<g transform="matrix(1.3235 0 0 1.0222 63.67 240.87)"><g transform="translate(200 400)"><text x="0" y="0" font-family='"Liberation Serif", serif' font-size="34" fill="#000">=</text></g></g>
<g transform="matrix(1.0379 0 0 0.9828 156.40 254.08)"><g transform="translate(200 400)"><text x="0" y="0" font-family='"Liberation Serif", serif' font-size="34" fill="#000">1.28, above threshold</text></g></g>
<g transform="matrix(1.1000 0 0 1.0222 350.60 653.61)"><g transform="translate(200 400)"><text x="0" y="0" font-family='"Liberation Serif", serif' font-size="37" font-style="italic" fill="#f00">a</text></g></g>
<g transform="matrix(0.9182 0 0 1.0667 407.06 640.53)"><g transform="translate(200 400)"><text x="0" y="0" font-family='"Liberation Serif", serif' font-size="26" font-style="italic" fill="#f00">c</text></g></g>
<g transform="matrix(0.9467 0 0 1.5000 417.26 470.30)"><g transform="translate(200 400)"><text x="0" y="0" font-family='"Liberation Serif", serif' font-size="37" font-style="italic" fill="#f00">/</text></g></g>
<g transform="matrix(0.9765 0 0 0.9423 426.11 684.14)"><g transform="translate(200 400)"><text x="0" y="0" font-family='"Liberation Serif", serif' font-size="37" font-style="italic" fill="#f00">g</text></g></g>
<g transform="matrix(1.3778 0 0 0.8600 376.77 718.58)"><g transform="translate(200 400)"><text x="0" y="0" font-family='"Liberation Serif", serif' font-size="37" fill="#f00">=</text></g></g>
<g transform="matrix(1.0049 0 0 1.0600 490.70 638.00)"><g transform="translate(200 400)"><text x="0" y="0" font-family='"Liberation Serif", serif' font-size="37" fill="#f00">1.26</text></g></g>
<line x1="182.3" y1="598.9" x2="260.7" y2="598.9" stroke="#0072BD" stroke-width="3.6"/>
<line x1="182.3" y1="638.1" x2="260.7" y2="638.1" stroke="#D95319" stroke-width="3.6"/>
<path d="M906.16 37.40 L904.20 38.34 L903.29 39.28 L902.58 40.22 L901.99 41.16 L901.47 42.10 L901.00 43.04 L900.59 43.98 L900.22 44.92 L899.88 45.86 L899.58 46.80 L899.31 47.74 L899.08 48.68 L898.87 49.62 L898.69 50.56 L898.54 51.50 L898.42 52.44 L898.32 53.38 L898.25 54.32 L898.21 55.26 L898.20 56.20 L898.21 57.14 L898.25 58.08 L898.32 59.02 L898.42 59.96 L898.54 60.90 L898.69 61.84 L898.87 62.78 L899.08 63.72 L899.31 64.66 L899.58 65.60 L899.88 66.54 L900.22 67.48 L900.59 68.42 L901.00 69.36 L901.47 70.30 L901.99 71.24 L902.58 72.18 L903.29 73.12 L904.20 74.06 L906.16 75.00 L907.40 75.00 L905.56 74.06 L904.77 73.12 L904.18 72.18 L903.70 71.24 L903.30 70.30 L902.94 69.36 L902.64 68.42 L902.36 67.48 L902.12 66.54 L901.91 65.60 L901.73 64.66 L901.56 63.72 L901.42 62.78 L901.30 61.84 L901.20 60.90 L901.12 59.96 L901.06 59.02 L901.02 58.08 L900.99 57.14 L900.98 56.20 L900.99 55.26 L901.02 54.32 L901.06 53.38 L901.12 52.44 L901.20 51.50 L901.30 50.56 L901.42 49.62 L901.56 48.68 L901.73 47.74 L901.91 46.80 L902.12 45.86 L902.36 44.92 L902.64 43.98 L902.94 43.04 L903.30 42.10 L903.70 41.16 L904.18 40.22 L904.77 39.28 L905.56 38.34 L907.40 37.40ZM930.34 37.40 L932.28 38.34 L933.17 39.28 L933.87 40.22 L934.46 41.16 L934.97 42.10 L935.43 43.04 L935.84 43.98 L936.21 44.92 L936.54 45.86 L936.84 46.80 L937.10 47.74 L937.34 48.68 L937.54 49.62 L937.72 50.56 L937.87 51.50 L937.99 52.44 L938.08 53.38 L938.15 54.32 L938.19 55.26 L938.20 56.20 L938.19 57.14 L938.15 58.08 L938.08 59.02 L937.99 59.96 L937.87 60.90 L937.72 61.84 L937.54 62.78 L937.34 63.72 L937.10 64.66 L936.84 65.60 L936.54 66.54 L936.21 67.48 L935.84 68.42 L935.43 69.36 L934.97 70.30 L934.46 71.24 L933.87 72.18 L933.17 73.12 L932.28 74.06 L930.34 75.00 L929.10 75.00 L930.92 74.06 L931.69 73.12 L932.27 72.18 L932.74 71.24 L933.14 70.30 L933.49 69.36 L933.79 68.42 L934.06 67.48 L934.30 66.54 L934.51 65.60 L934.69 64.66 L934.85 63.72 L934.99 62.78 L935.10 61.84 L935.20 60.90 L935.28 59.96 L935.34 59.02 L935.38 58.08 L935.41 57.14 L935.42 56.20 L935.41 55.26 L935.38 54.32 L935.34 53.38 L935.28 52.44 L935.20 51.50 L935.10 50.56 L934.99 49.62 L934.85 48.68 L934.69 47.74 L934.51 46.80 L934.30 45.86 L934.06 44.92 L933.79 43.98 L933.49 43.04 L933.14 42.10 L932.74 41.16 L932.27 40.22 L931.69 39.28 L930.92 38.34 L929.10 37.40ZM906.16 468.20 L904.19 469.14 L903.29 470.08 L902.58 471.03 L901.99 471.97 L901.47 472.91 L901.00 473.85 L900.59 474.80 L900.22 475.74 L899.88 476.68 L899.58 477.62 L899.31 478.57 L899.08 479.51 L898.87 480.45 L898.69 481.39 L898.54 482.34 L898.42 483.28 L898.32 484.22 L898.25 485.16 L898.21 486.11 L898.20 487.05 L898.21 487.99 L898.25 488.94 L898.32 489.88 L898.42 490.82 L898.54 491.76 L898.69 492.70 L898.87 493.65 L899.08 494.59 L899.31 495.53 L899.58 496.47 L899.88 497.42 L900.22 498.36 L900.59 499.30 L901.00 500.25 L901.47 501.19 L901.99 502.13 L902.58 503.07 L903.29 504.01 L904.19 504.96 L906.16 505.90 L907.40 505.90 L905.56 504.96 L904.77 504.01 L904.19 503.07 L903.71 502.13 L903.30 501.19 L902.95 500.25 L902.64 499.30 L902.37 498.36 L902.13 497.42 L901.92 496.47 L901.73 495.53 L901.57 494.59 L901.43 493.65 L901.31 492.70 L901.21 491.76 L901.13 490.82 L901.07 489.88 L901.02 488.94 L901.00 487.99 L900.99 487.05 L901.00 486.11 L901.02 485.16 L901.07 484.22 L901.13 483.28 L901.21 482.34 L901.31 481.39 L901.43 480.45 L901.57 479.51 L901.73 478.57 L901.92 477.62 L902.13 476.68 L902.37 475.74 L902.64 474.80 L902.95 473.85 L903.30 472.91 L903.71 471.97 L904.19 471.03 L904.77 470.08 L905.56 469.14 L907.40 468.20ZM932.44 468.20 L934.38 469.14 L935.28 470.08 L935.97 471.03 L936.56 471.97 L937.08 472.91 L937.53 473.85 L937.94 474.80 L938.31 475.74 L938.64 476.68 L938.94 477.62 L939.20 478.57 L939.44 479.51 L939.64 480.45 L939.82 481.39 L939.97 482.34 L940.09 483.28 L940.18 484.22 L940.25 485.16 L940.29 486.11 L940.30 487.05 L940.29 487.99 L940.25 488.94 L940.18 489.88 L940.09 490.82 L939.97 491.76 L939.82 492.70 L939.64 493.65 L939.44 494.59 L939.20 495.53 L938.94 496.47 L938.64 497.42 L938.31 498.36 L937.94 499.30 L937.53 500.25 L937.08 501.19 L936.56 502.13 L935.97 503.07 L935.28 504.01 L934.38 504.96 L932.44 505.90 L931.20 505.90 L933.02 504.96 L933.79 504.01 L934.37 503.07 L934.84 502.13 L935.24 501.19 L935.59 500.25 L935.89 499.30 L936.16 498.36 L936.39 497.42 L936.60 496.47 L936.78 495.53 L936.94 494.59 L937.08 493.65 L937.20 492.70 L937.29 491.76 L937.37 490.82 L937.43 489.88 L937.48 488.94 L937.50 487.99 L937.51 487.05 L937.50 486.11 L937.48 485.16 L937.43 484.22 L937.37 483.28 L937.29 482.34 L937.20 481.39 L937.08 480.45 L936.94 479.51 L936.78 478.57 L936.60 477.62 L936.39 476.68 L936.16 475.74 L935.89 474.80 L935.59 473.85 L935.24 472.91 L934.84 471.97 L934.37 471.03 L933.79 470.08 L933.02 469.14 L931.20 468.20ZM906.16 1032.60 L904.19 1033.54 L903.29 1034.48 L902.58 1035.43 L901.99 1036.37 L901.47 1037.31 L901.00 1038.25 L900.59 1039.20 L900.22 1040.14 L899.88 1041.08 L899.58 1042.02 L899.31 1042.97 L899.08 1043.91 L898.87 1044.85 L898.69 1045.79 L898.54 1046.74 L898.42 1047.68 L898.32 1048.62 L898.25 1049.56 L898.21 1050.51 L898.20 1051.45 L898.21 1052.39 L898.25 1053.34 L898.32 1054.28 L898.42 1055.22 L898.54 1056.16 L898.69 1057.11 L898.87 1058.05 L899.08 1058.99 L899.31 1059.93 L899.58 1060.88 L899.88 1061.82 L900.22 1062.76 L900.59 1063.70 L901.00 1064.64 L901.47 1065.59 L901.99 1066.53 L902.58 1067.47 L903.29 1068.41 L904.19 1069.36 L906.16 1070.30 L907.40 1070.30 L905.56 1069.36 L904.77 1068.41 L904.19 1067.47 L903.71 1066.53 L903.30 1065.59 L902.95 1064.64 L902.64 1063.70 L902.37 1062.76 L902.13 1061.82 L901.92 1060.88 L901.73 1059.93 L901.57 1058.99 L901.43 1058.05 L901.31 1057.11 L901.21 1056.16 L901.13 1055.22 L901.07 1054.28 L901.02 1053.34 L901.00 1052.39 L900.99 1051.45 L901.00 1050.51 L901.02 1049.56 L901.07 1048.62 L901.13 1047.68 L901.21 1046.74 L901.31 1045.79 L901.43 1044.85 L901.57 1043.91 L901.73 1042.97 L901.92 1042.02 L902.13 1041.08 L902.37 1040.14 L902.64 1039.20 L902.95 1038.25 L903.30 1037.31 L903.71 1036.37 L904.19 1035.43 L904.77 1034.48 L905.56 1033.54 L907.40 1032.60ZM928.34 1032.60 L930.28 1033.54 L931.18 1034.48 L931.87 1035.43 L932.46 1036.37 L932.98 1037.31 L933.43 1038.25 L933.84 1039.20 L934.21 1040.14 L934.54 1041.08 L934.84 1042.02 L935.10 1042.97 L935.34 1043.91 L935.54 1044.85 L935.72 1045.79 L935.87 1046.74 L935.99 1047.68 L936.08 1048.62 L936.15 1049.56 L936.19 1050.51 L936.20 1051.45 L936.19 1052.39 L936.15 1053.34 L936.08 1054.28 L935.99 1055.22 L935.87 1056.16 L935.72 1057.11 L935.54 1058.05 L935.34 1058.99 L935.10 1059.93 L934.84 1060.88 L934.54 1061.82 L934.21 1062.76 L933.84 1063.70 L933.43 1064.64 L932.98 1065.59 L932.46 1066.53 L931.87 1067.47 L931.18 1068.41 L930.28 1069.36 L928.34 1070.30 L927.10 1070.30 L928.92 1069.36 L929.69 1068.41 L930.27 1067.47 L930.74 1066.53 L931.14 1065.59 L931.49 1064.64 L931.79 1063.70 L932.06 1062.76 L932.29 1061.82 L932.50 1060.88 L932.68 1059.93 L932.84 1058.99 L932.98 1058.05 L933.10 1057.11 L933.19 1056.16 L933.27 1055.22 L933.33 1054.28 L933.38 1053.34 L933.40 1052.39 L933.41 1051.45 L933.40 1050.51 L933.38 1049.56 L933.33 1048.62 L933.27 1047.68 L933.19 1046.74 L933.10 1045.79 L932.98 1044.85 L932.84 1043.91 L932.68 1042.97 L932.50 1042.02 L932.29 1041.08 L932.06 1040.14 L931.79 1039.20 L931.49 1038.25 L931.14 1037.31 L930.74 1036.37 L930.27 1035.43 L929.69 1034.48 L928.92 1033.54 L927.10 1032.60Z" fill="#000"/>
<path d="M593.94 870.80 L591.91 871.83 L590.97 872.86 L590.24 873.89 L589.62 874.92 L589.08 875.95 L588.60 876.98 L588.17 878.01 L587.79 879.04 L587.44 880.07 L587.13 881.10 L586.85 882.13 L586.61 883.16 L586.39 884.19 L586.21 885.22 L586.05 886.25 L585.92 887.28 L585.83 888.31 L585.76 889.34 L585.71 890.37 L585.70 891.40 L585.71 892.43 L585.76 893.46 L585.83 894.49 L585.92 895.52 L586.05 896.55 L586.21 897.58 L586.39 898.61 L586.61 899.64 L586.85 900.67 L587.13 901.70 L587.44 902.73 L587.79 903.76 L588.17 904.79 L588.60 905.82 L589.08 906.85 L589.62 907.88 L590.24 908.91 L590.97 909.94 L591.91 910.97 L593.94 912.00 L595.30 912.00 L593.40 910.97 L592.59 909.94 L591.99 908.91 L591.50 907.88 L591.09 906.85 L590.73 905.82 L590.42 904.79 L590.14 903.76 L589.90 902.73 L589.68 901.70 L589.50 900.67 L589.33 899.64 L589.19 898.61 L589.07 897.58 L588.97 896.55 L588.89 895.52 L588.83 894.49 L588.78 893.46 L588.76 892.43 L588.75 891.40 L588.76 890.37 L588.78 889.34 L588.83 888.31 L588.89 887.28 L588.97 886.25 L589.07 885.22 L589.19 884.19 L589.33 883.16 L589.50 882.13 L589.68 881.10 L589.90 880.07 L590.14 879.04 L590.42 878.01 L590.73 876.98 L591.09 875.95 L591.50 874.92 L591.99 873.89 L592.59 872.86 L593.40 871.83 L595.30 870.80ZM651.56 870.80 L653.59 871.83 L654.53 872.86 L655.26 873.89 L655.88 874.92 L656.42 875.95 L656.90 876.98 L657.33 878.01 L657.71 879.04 L658.06 880.07 L658.37 881.10 L658.65 882.13 L658.89 883.16 L659.11 884.19 L659.29 885.22 L659.45 886.25 L659.58 887.28 L659.67 888.31 L659.74 889.34 L659.79 890.37 L659.80 891.40 L659.79 892.43 L659.74 893.46 L659.67 894.49 L659.58 895.52 L659.45 896.55 L659.29 897.58 L659.11 898.61 L658.89 899.64 L658.65 900.67 L658.37 901.70 L658.06 902.73 L657.71 903.76 L657.33 904.79 L656.90 905.82 L656.42 906.85 L655.88 907.88 L655.26 908.91 L654.53 909.94 L653.59 910.97 L651.56 912.00 L650.20 912.00 L652.10 910.97 L652.91 909.94 L653.51 908.91 L654.00 907.88 L654.41 906.85 L654.77 905.82 L655.08 904.79 L655.36 903.76 L655.60 902.73 L655.82 901.70 L656.00 900.67 L656.17 899.64 L656.31 898.61 L656.43 897.58 L656.53 896.55 L656.61 895.52 L656.67 894.49 L656.72 893.46 L656.74 892.43 L656.75 891.40 L656.74 890.37 L656.72 889.34 L656.67 888.31 L656.61 887.28 L656.53 886.25 L656.43 885.22 L656.31 884.19 L656.17 883.16 L656.00 882.13 L655.82 881.10 L655.60 880.07 L655.36 879.04 L655.08 878.01 L654.77 876.98 L654.41 875.95 L654.00 874.92 L653.51 873.89 L652.91 872.86 L652.10 871.83 L650.20 870.80ZM0.00 208.64 L1.02 210.65 L2.04 211.58 L3.05 212.31 L4.07 212.92 L5.09 213.45 L6.11 213.93 L7.12 214.35 L8.14 214.73 L9.16 215.08 L10.18 215.38 L11.19 215.66 L12.21 215.90 L13.23 216.12 L14.24 216.30 L15.26 216.45 L16.28 216.58 L17.30 216.68 L18.32 216.74 L19.33 216.79 L20.35 216.80 L21.37 216.79 L22.39 216.74 L23.40 216.68 L24.42 216.58 L25.44 216.45 L26.46 216.30 L27.47 216.12 L28.49 215.90 L29.51 215.66 L30.53 215.38 L31.54 215.08 L32.56 214.73 L33.58 214.35 L34.59 213.93 L35.61 213.45 L36.63 212.92 L37.65 212.31 L38.66 211.58 L39.68 210.65 L40.70 208.64 L40.70 207.30 L39.68 209.18 L38.66 209.98 L37.65 210.58 L36.63 211.06 L35.61 211.47 L34.59 211.83 L33.58 212.14 L32.56 212.41 L31.54 212.65 L30.53 212.86 L29.51 213.05 L28.49 213.21 L27.47 213.35 L26.46 213.47 L25.44 213.57 L24.42 213.65 L23.40 213.71 L22.39 213.75 L21.37 213.78 L20.35 213.79 L19.33 213.78 L18.32 213.75 L17.30 213.71 L16.28 213.65 L15.26 213.57 L14.24 213.47 L13.23 213.35 L12.21 213.21 L11.19 213.05 L10.18 212.86 L9.16 212.65 L8.14 212.41 L7.12 212.14 L6.11 211.83 L5.09 211.47 L4.07 211.06 L3.05 210.58 L2.04 209.98 L1.02 209.18 L0.00 207.30ZM0.00 134.96 L1.02 132.95 L2.04 132.02 L3.05 131.29 L4.07 130.68 L5.09 130.15 L6.11 129.67 L7.12 129.25 L8.14 128.87 L9.16 128.52 L10.18 128.22 L11.19 127.94 L12.21 127.70 L13.23 127.48 L14.24 127.30 L15.26 127.15 L16.28 127.02 L17.30 126.92 L18.32 126.86 L19.33 126.81 L20.35 126.80 L21.37 126.81 L22.39 126.86 L23.40 126.92 L24.42 127.02 L25.44 127.15 L26.46 127.30 L27.47 127.48 L28.49 127.70 L29.51 127.94 L30.53 128.22 L31.54 128.52 L32.56 128.87 L33.58 129.25 L34.59 129.67 L35.61 130.15 L36.63 130.68 L37.65 131.29 L38.66 132.02 L39.68 132.95 L40.70 134.96 L40.70 136.30 L39.68 134.42 L38.66 133.62 L37.65 133.02 L36.63 132.54 L35.61 132.13 L34.59 131.77 L33.58 131.46 L32.56 131.19 L31.54 130.95 L30.53 130.74 L29.51 130.55 L28.49 130.39 L27.47 130.25 L26.46 130.13 L25.44 130.03 L24.42 129.95 L23.40 129.89 L22.39 129.85 L21.37 129.82 L20.35 129.81 L19.33 129.82 L18.32 129.85 L17.30 129.89 L16.28 129.95 L15.26 130.03 L14.24 130.13 L13.23 130.25 L12.21 130.39 L11.19 130.55 L10.18 130.74 L9.16 130.95 L8.14 131.19 L7.12 131.46 L6.11 131.77 L5.09 132.13 L4.07 132.54 L3.05 133.02 L2.04 133.62 L1.02 134.42 L0.00 136.30ZM11.20 606.67 L12.24 608.77 L13.27 609.74 L14.31 610.50 L15.35 611.14 L16.39 611.70 L17.42 612.19 L18.46 612.64 L19.50 613.04 L20.54 613.40 L21.57 613.72 L22.61 614.01 L23.65 614.26 L24.69 614.48 L25.72 614.68 L26.76 614.84 L27.80 614.97 L28.84 615.07 L29.88 615.14 L30.91 615.19 L31.95 615.20 L32.99 615.19 L34.03 615.14 L35.06 615.07 L36.10 614.97 L37.14 614.84 L38.17 614.68 L39.21 614.48 L40.25 614.26 L41.29 614.01 L42.33 613.72 L43.36 613.40 L44.40 613.04 L45.44 612.64 L46.47 612.19 L47.51 611.70 L48.55 611.14 L49.59 610.50 L50.62 609.74 L51.66 608.77 L52.70 606.67 L52.70 605.30 L51.66 607.27 L50.62 608.11 L49.59 608.74 L48.55 609.25 L47.51 609.68 L46.47 610.05 L45.44 610.38 L44.40 610.67 L43.36 610.92 L42.33 611.15 L41.29 611.34 L40.25 611.52 L39.21 611.66 L38.17 611.79 L37.14 611.90 L36.10 611.98 L35.06 612.05 L34.03 612.09 L32.99 612.12 L31.95 612.13 L30.91 612.12 L29.88 612.09 L28.84 612.05 L27.80 611.98 L26.76 611.90 L25.72 611.79 L24.69 611.66 L23.65 611.52 L22.61 611.34 L21.57 611.15 L20.54 610.92 L19.50 610.67 L18.46 610.38 L17.42 610.05 L16.39 609.68 L15.35 609.25 L14.31 608.74 L13.27 608.11 L12.24 607.27 L11.20 605.30ZM11.20 569.83 L12.24 567.73 L13.27 566.76 L14.31 566.00 L15.35 565.36 L16.39 564.80 L17.42 564.31 L18.46 563.86 L19.50 563.46 L20.54 563.10 L21.57 562.78 L22.61 562.49 L23.65 562.24 L24.69 562.02 L25.72 561.82 L26.76 561.66 L27.80 561.53 L28.84 561.43 L29.88 561.36 L30.91 561.31 L31.95 561.30 L32.99 561.31 L34.03 561.36 L35.06 561.43 L36.10 561.53 L37.14 561.66 L38.17 561.82 L39.21 562.02 L40.25 562.24 L41.29 562.49 L42.33 562.78 L43.36 563.10 L44.40 563.46 L45.44 563.86 L46.47 564.31 L47.51 564.80 L48.55 565.36 L49.59 566.00 L50.62 566.76 L51.66 567.73 L52.70 569.83 L52.70 571.20 L51.66 569.23 L50.62 568.39 L49.59 567.76 L48.55 567.25 L47.51 566.82 L46.47 566.45 L45.44 566.12 L44.40 565.83 L43.36 565.58 L42.33 565.35 L41.29 565.16 L40.25 564.98 L39.21 564.84 L38.17 564.71 L37.14 564.60 L36.10 564.52 L35.06 564.45 L34.03 564.41 L32.99 564.38 L31.95 564.37 L30.91 564.38 L29.88 564.41 L28.84 564.45 L27.80 564.52 L26.76 564.60 L25.72 564.71 L24.69 564.84 L23.65 564.98 L22.61 565.16 L21.57 565.35 L20.54 565.58 L19.50 565.83 L18.46 566.12 L17.42 566.45 L16.39 566.82 L15.35 567.25 L14.31 567.76 L13.27 568.39 L12.24 569.23 L11.20 571.20ZM33.00 1208.37 L34.04 1210.43 L35.08 1211.37 L36.12 1212.11 L37.16 1212.74 L38.20 1213.28 L39.24 1213.77 L40.28 1214.20 L41.32 1214.59 L42.36 1214.94 L43.40 1215.25 L44.44 1215.54 L45.48 1215.78 L46.52 1216.00 L47.56 1216.19 L48.60 1216.35 L49.64 1216.47 L50.68 1216.57 L51.72 1216.64 L52.76 1216.69 L53.80 1216.70 L54.84 1216.69 L55.88 1216.64 L56.92 1216.57 L57.96 1216.47 L59.00 1216.35 L60.04 1216.19 L61.08 1216.00 L62.12 1215.78 L63.16 1215.54 L64.20 1215.25 L65.24 1214.94 L66.28 1214.59 L67.32 1214.20 L68.36 1213.77 L69.40 1213.28 L70.44 1212.74 L71.48 1212.11 L72.52 1211.37 L73.56 1210.43 L74.60 1208.37 L74.60 1207.00 L73.56 1208.92 L72.52 1209.73 L71.48 1210.34 L70.44 1210.84 L69.40 1211.26 L68.36 1211.62 L67.32 1211.94 L66.28 1212.21 L65.24 1212.46 L64.20 1212.68 L63.16 1212.87 L62.12 1213.03 L61.08 1213.17 L60.04 1213.30 L59.00 1213.40 L57.96 1213.48 L56.92 1213.54 L55.88 1213.59 L54.84 1213.61 L53.80 1213.62 L52.76 1213.61 L51.72 1213.59 L50.68 1213.54 L49.64 1213.48 L48.60 1213.40 L47.56 1213.30 L46.52 1213.17 L45.48 1213.03 L44.44 1212.87 L43.40 1212.68 L42.36 1212.46 L41.32 1212.21 L40.28 1211.94 L39.24 1211.62 L38.20 1211.26 L37.16 1210.84 L36.12 1210.34 L35.08 1209.73 L34.04 1208.92 L33.00 1207.00ZM33.00 1171.63 L34.04 1169.50 L35.08 1168.52 L36.12 1167.75 L37.16 1167.10 L38.20 1166.54 L39.24 1166.04 L40.28 1165.59 L41.32 1165.19 L42.36 1164.82 L43.40 1164.50 L44.44 1164.21 L45.48 1163.95 L46.52 1163.72 L47.56 1163.53 L48.60 1163.37 L49.64 1163.23 L50.68 1163.13 L51.72 1163.06 L52.76 1163.01 L53.80 1163.00 L54.84 1163.01 L55.88 1163.06 L56.92 1163.13 L57.96 1163.23 L59.00 1163.37 L60.04 1163.53 L61.08 1163.72 L62.12 1163.95 L63.16 1164.21 L64.20 1164.50 L65.24 1164.82 L66.28 1165.19 L67.32 1165.59 L68.36 1166.04 L69.40 1166.54 L70.44 1167.10 L71.48 1167.75 L72.52 1168.52 L73.56 1169.50 L74.60 1171.63 L74.60 1173.00 L73.56 1171.01 L72.52 1170.16 L71.48 1169.52 L70.44 1169.00 L69.40 1168.57 L68.36 1168.19 L67.32 1167.85 L66.28 1167.56 L65.24 1167.30 L64.20 1167.08 L63.16 1166.88 L62.12 1166.70 L61.08 1166.55 L60.04 1166.42 L59.00 1166.32 L57.96 1166.23 L56.92 1166.16 L55.88 1166.12 L54.84 1166.09 L53.80 1166.08 L52.76 1166.09 L51.72 1166.12 L50.68 1166.16 L49.64 1166.23 L48.60 1166.32 L47.56 1166.42 L46.52 1166.55 L45.48 1166.70 L44.44 1166.88 L43.40 1167.08 L42.36 1167.30 L41.32 1167.56 L40.28 1167.85 L39.24 1168.19 L38.20 1168.57 L37.16 1169.00 L36.12 1169.52 L35.08 1170.16 L34.04 1171.01 L33.00 1173.00Z" fill="#262626"/>
<path d="M33 1299.2 L53.8 1307.1 L73.8 1299.2 M33 1246.8 L53.8 1239 L73.8 1246.8" fill="none" stroke="#262626" stroke-width="1.6"/>
</svg></body></html>
